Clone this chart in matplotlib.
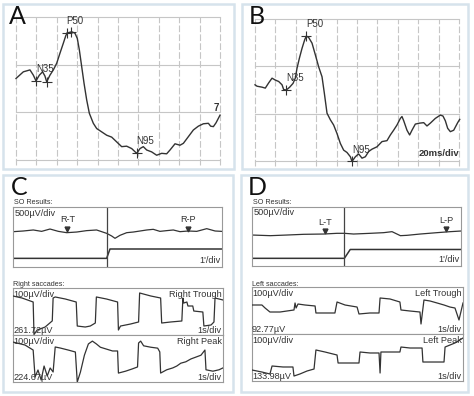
import matplotlib.pyplot as plt
from matplotlib.patches import Rectangle

W, H = 474, 396
plt.rcParams['font.family'] = ['Liberation Sans', 'DejaVu Sans']

# ---- A / B : waveform, 20 ms/div, amplitude in grid divisions
a_ms = [0, 7.2, 13.7, 17.0, 19.6, 22.9, 26.1, 28.4, 30.1, 33.3, 36.6, 39.9, 43.1, 46.4, 49.0,
        51.3, 54.6, 57.8, 60.1, 62.1, 64.4, 66.7, 69.3, 71.9, 75.8, 79.1, 84.0, 88.9, 93.8,
        98.7, 103.6, 108.5, 113.4, 118.3, 121.6, 124.8, 128.1, 133.0, 137.9, 142.8, 147.7,
        151.0, 155.9, 160.8, 164.1, 169.0, 173.9, 178.8, 183.7, 188.6, 190.8, 193.5, 196.1, 200.0]
a_amp = [1.71, 1.85, 1.89, 1.78, 1.66, 1.78, 1.85, 1.76, 1.64, 1.78, 1.89, 2.03, 2.24, 2.45, 2.62,
         2.67, 2.69, 2.66, 2.55, 2.31, 1.96, 1.61, 1.26, 0.98, 0.77, 0.66, 0.59, 0.52, 0.48,
         0.38, 0.28, 0.29, 0.24, 0.14, 0.24, 0.28, 0.21, 0.17, 0.10, 0.14, 0.13,
         0.21, 0.34, 0.31, 0.35, 0.49, 0.63, 0.71, 0.76, 0.77, 0.71, 0.70, 0.78, 0.94]
a_peak_names = ['N35', 'N35', 'P50', 'P50', 'N95']
a_peak_ms = [19.6, 30.1, 49.7, 53.6, 118.3]
a_peak_amp = [1.66, 1.64, 2.66, 2.69, 0.14]

b_ms = [0, 2.0, 6.9, 10.1, 13.4, 16.7, 19.9, 23.2, 26.5, 28.1, 30.7, 34.0, 37.3, 39.5, 41.2,
        43.5, 46.1, 48.7, 50.3, 52.6, 55.9, 59.2, 62.4, 65.7, 68.0, 70.6, 73.9, 77.1, 80.4, 83.7,
        86.9, 90.2, 93.5, 95.1, 98.4, 101.6, 104.9, 108.2, 111.4, 114.7, 119.6, 124.5, 129.4,
        132.7, 135.9, 139.2, 142.5, 144.1, 145.8, 149.0, 151.6, 153.9, 157.2, 161.4, 165.4,
        168.6, 171.9, 176.8, 181.7, 184.3, 186.6, 188.9, 191.5, 194.8, 198.7, 200.7]
b_amp = [1.61, 1.58, 1.56, 1.54, 1.65, 1.75, 1.71, 1.68, 1.61, 1.51, 1.50, 1.56, 1.64, 1.75, 1.96,
         2.17, 2.38, 2.56, 2.64, 2.61, 2.49, 2.24, 1.99, 1.78, 1.43, 1.01, 0.87, 0.76, 0.58, 0.37,
         0.23, 0.18, 0.09, -0.01, 0.09, 0.15, 0.06, 0.09, 0.20, 0.25, 0.30, 0.41, 0.43,
         0.55, 0.65, 0.76, 0.90, 0.94, 0.85, 0.65, 0.55, 0.65, 0.78, 0.80, 0.81,
         0.74, 0.80, 0.90, 0.97, 0.95, 0.85, 0.69, 0.62, 0.65, 0.81, 0.88]
b_peak_names = ['N35', 'P50', 'N95']
b_peak_ms = [30.7, 50.3, 95.1]
b_peak_amp = [1.50, 2.64, -0.01]

# ---- C / D : SO results (percent of box)
c_so_x = [0.2, 4.9, 9.7, 13.7, 17.7, 21.7, 25.7, 30.5, 35.2, 40.0, 42.4, 44.8, 47.2, 48.8, 51.2,
          54.4, 57.6, 60.8, 64.0, 67.1, 70.3, 73.5, 76.7, 79.9, 83.9, 87.9, 92.7, 96.7, 99.8]
c_so_y = [58.9, 60, 61.7, 59.4, 63.3, 59.4, 57.2, 58.3, 60.6, 61.7, 58.9, 56.1, 51.7, 47.8, 52.8,
          57.2, 58.3, 60, 61.7, 62.8, 59.4, 60.6, 61.7, 58.9, 60, 59.4, 63.9, 60, 59.4]
c_stim_x = [0, 44.8, 46.4, 100]
c_stim_y = [14.4, 14.4, 30, 30]
c_split = 44.8
c_marks = ['R-T', 'R-P']
c_mark_x = [26, 83.9]
c_mark_y = [64, 64]

d_so_x = [0, 8.8, 16.7, 24.7, 34.3, 40.7, 44.2, 48.6, 56.6, 63.0, 67.0, 71.0, 74.2, 80.5, 88.5,
          94.9, 100]
d_so_y = [52.5, 51.4, 52.5, 53.7, 54.2, 55.4, 55.4, 54.2, 55.4, 56.5, 58.2, 51.4, 52, 54.2, 56.5,
          58.2, 59.3]
d_stim_x = [0, 44.2, 47, 100]
d_stim_y = [13, 13, 28, 28]
d_split = 44.2
d_marks = ['L-T', 'L-P']
d_mark_x = [35, 92.8]
d_mark_y = [59, 62]

# ---- saccades (percent of box)
ct_x = [0, 4.3, 9.6, 10.0, 11.5, 15.3, 18.7, 19.1, 20.1, 24.9, 30.1, 30.6, 34.4, 36.8, 39.2,
        39.7, 44.5, 49.8, 50.2, 51.2, 56.0, 59.8, 60.3, 65.6, 70.3, 70.8, 75.1, 80.4, 80.9, 81.3,
        82.8, 83.3, 85.6, 86.1, 90.4, 90.9, 94.3, 95.7, 96.2, 100]
ct_y = [83, 78.7, 70.2, 1, 10.6, 17, 30, 78.7, 80.9, 76.6, 70.2, 19.1, 17, 19.1, 25.5,
        80.9, 76.6, 70.2, 10.6, 19.1, 23.4, 27.7, 89.4, 83, 78.7, 25.5, 27.7, 29.8, 78.7, 68,
        70.2, 61.7, 61.7, 51, 48.9, 19.1, 21.3, 27.7, 78.7, 74.5]
cp_x = [0, 5.7, 9.6, 10.5, 11.9, 13.4, 14.8, 16.3, 17.7, 19.1, 20.1, 22.5, 26.3, 29.7, 30.6,
        32.1, 34.0, 35.9, 37.8, 39.7, 41.6, 44.5, 47.4, 49.8, 50.2, 53.6, 56.9, 59.3, 59.8, 60.8,
        62.2, 65.6, 68.9, 69.9, 70.3, 73.2, 76.1, 78.0, 79.9, 82.3, 84.7, 87.1, 89.5, 91.4, 91.9,
        95.2, 98.1, 100]
cp_y = [85, 78.7, 68, 10.6, 25.5, 4.3, 34, 12.8, 29.8, 21.3, 74.5, 72.3, 68, 63.8, 0,
        21, 57, 81, 87, 81, 74, 70, 66, 66, 19, 23, 28, 32, 83, 87,
        77, 74, 72, 64, 19, 26, 30, 34, 40, 43, 49, 53, 57, 68, 26,
        23, 26, 30]
dt_x = [0, 4.7, 6.2, 8.5, 13.3, 19.9, 20.4, 20.9, 21.8, 25.1, 29.9, 30.3, 34.6, 39.3, 40.3,
        44.1, 49.8, 50.7, 55.9, 60.2, 60.7, 65.4, 70.1, 70.6, 74.9, 79.6, 80.1, 81.5, 84.4, 87.7,
        91.0, 93.8, 96.2, 98.1, 100]
dt_y = [61.7, 61.7, 55.3, 46.8, 46.8, 51.1, 66, 55.3, 63.8, 61.7, 59.6, 44.7, 44.7, 44.7, 68.1,
        61.7, 57.4, 42.6, 44.7, 44.7, 76.6, 74.5, 68.1, 51.1, 48.9, 46.8, 21.3, 72.3, 70.2, 66,
        61.7, 57.4, 55.3, 29.8, 66]
dp_x = [0, 4.7, 8.5, 9.5, 14.7, 19.4, 19.9, 22.7, 26.1, 29.4, 30.3, 34.6, 40.3, 40.8, 46.4,
        50.7, 51.2, 55.9, 60.2, 60.7, 61.1, 65.4, 70.1, 70.6, 74.9, 80.6, 81.0, 86.7, 91.0, 91.5,
        96.2, 100]
dp_y = [23.4, 19.1, 14.9, 31.9, 29.8, 29.8, 10.6, 14.9, 21.3, 25.5, 66, 61.7, 55.3, 38.3, 38.3,
        38.3, 61.7, 59.6, 59.6, 17, 61.7, 61.7, 61.7, 72.3, 70.2, 70.2, 40.4, 40.4, 40.4, 72.3,
        80.9, 91.5]

TRACE = '#333333'
GRID = '#c6c6c6'
BOX = '#999999'

fig = plt.figure(figsize=(W / 100, H / 100), dpi=100)


def px_axes(x0, y0, x1, y1):
    # axes placed by its pixel box, origin top-left
    return fig.add_axes([x0 / W, 1 - y1 / H, (x1 - x0) / W, (y1 - y0) / H])


def frame(x0, y0, x1, y1):
    fig.add_artist(Rectangle((x0 / W, 1 - y1 / H), (x1 - x0) / W, (y1 - y0) / H,
                             transform=fig.transFigure, fill=False, ec='#d6e3ec', lw=1.8))


def ptext(x, y, s, **kw):
    fig.text(x / W, 1 - y / H, s, **kw)


def wave_panel(rect, ms, amp, names, pk_ms, pk_amp, end_label, end_off):
    ax = px_axes(*rect)
    ax.set_xlim(0, 200)
    ax.set_ylim(0, 3)
    ax.axis('off')
    for k in range(11):
        ax.plot([k * 20, k * 20], [-0.1, 3], color=GRID, lw=0.8, ls=(0, (6, 2)), clip_on=False)
    for k in range(4):
        ax.plot([0, 200], [k, k], color=GRID, lw=0.8, clip_on=False)
    ax.plot(ms, amp, color=TRACE, lw=1.0, clip_on=False, zorder=3)
    ax.plot(pk_ms, pk_amp, ls='none', marker='+', ms=7, mew=0.8, color=TRACE, clip_on=False, zorder=4)
    seen = set()
    for n, x, y in zip(names, pk_ms, pk_amp):
        if n in seen:
            continue
        seen.add(n)
        ax.annotate(n, (x, y), xytext=(0, 5), textcoords='offset points', fontsize=7,
                    color=TRACE, ha='left', va='bottom', zorder=5)
    ax.annotate(end_label, (ms[-1], amp[-1]), xytext=end_off, textcoords='offset points',
                fontsize=7, fontweight='bold', color=TRACE, ha='right', va='center')
    return ax


def box(rect):
    ax = px_axes(*rect)
    ax.set_xlim(0, 100)
    ax.set_ylim(0, 100)
    ax.set_xticks([])
    ax.set_yticks([])
    for s in ax.spines.values():
        s.set_color(BOX)
        s.set_linewidth(0.8)
    return ax


def so_panel(rect, x, y, sx, sy, split, marks, mx, my):
    ax = box(rect)
    ax.plot(x, y, color=TRACE, lw=0.9)
    ax.plot(sx, sy, color=TRACE, lw=1.1)
    ax.axvline(split, color='#444444', lw=0.9)
    ax.plot(mx, my, ls='none', marker='v', ms=3.5, color=TRACE)
    for n, a, b in zip(marks, mx, my):
        ax.annotate(n, (a, b), xytext=(0, 3), textcoords='offset points', fontsize=6.6,
                    color=TRACE, ha='center', va='bottom')
    ax.text(0.01, 0.9, '500\u00b5V/div', transform=ax.transAxes, fontsize=6.6, color=TRACE, va='center')
    ax.text(0.995, 0.03, "1'/div", transform=ax.transAxes, fontsize=6.6, color=TRACE,
            ha='right', va='bottom')


def sacc_box(rect, x, y, name, value):
    ax = box(rect)
    ax.plot(x, y, color=TRACE, lw=0.9, zorder=3)
    ax.text(0.0, 0.86, '100\u00b5V/div', transform=ax.transAxes, fontsize=6.6, color=TRACE, va='center')
    ax.text(0.995, 0.87, name, transform=ax.transAxes, fontsize=6.6, color=TRACE, ha='right', va='center')
    ax.text(0.0, 0.0, value, transform=ax.transAxes, fontsize=6.6, color=TRACE, va='bottom')
    ax.text(0.995, 0.0, '1s/div', transform=ax.transAxes, fontsize=6.6, color=TRACE,
            ha='right', va='bottom')


# panel frames
frame(3, 4, 234, 169)
frame(242, 4, 468, 169)
frame(3, 175, 233, 392)
frame(241, 175, 468, 392)

# A
wave_panel((16, 17, 220, 160), a_ms, a_amp, a_peak_names, a_peak_ms, a_peak_amp, '7', (-1, 5))
# B
axb = wave_panel((255, 19, 459, 161), b_ms, b_amp, b_peak_names, b_peak_ms, b_peak_amp, '8', (-1, 1))
axb.text(200.5, 0.06, '20ms/div', fontsize=6.8, fontweight='bold', color=TRACE, ha='right', va='bottom')

# C
ptext(14, 203, 'SO Results:', fontsize=5.2, color=TRACE, va='center')
so_panel((13, 207, 222, 267), c_so_x, c_so_y, c_stim_x, c_stim_y, c_split, c_marks, c_mark_x, c_mark_y)
ptext(13, 285, 'Right saccades:', fontsize=5.2, color=TRACE, va='center')
sacc_box((13, 288, 223, 335), ct_x, ct_y, 'Right Trough', '261.72\u00b5V')
sacc_box((13, 335, 223, 382), cp_x, cp_y, 'Right Peak', '224.67\u00b5V')

# D
ptext(253, 203, 'SO Results:', fontsize=5.2, color=TRACE, va='center')
so_panel((252, 207, 461, 266), d_so_x, d_so_y, d_stim_x, d_stim_y, d_split, d_marks, d_mark_x, d_mark_y)
ptext(252, 284, 'Left saccades:', fontsize=5.2, color=TRACE, va='center')
sacc_box((252, 287, 463, 334), dt_x, dt_y, 'Left Trough', '92.77\u00b5V')
sacc_box((252, 334, 463, 381), dp_x, dp_y, 'Left Peak', '133.98\u00b5V')

# panel letters
for s, x, y in [('A', 9, 17), ('B', 249, 17), ('C', 11, 188), ('D', 248, 188)]:
    ptext(x, y, s, fontsize=18, family=['Lato', 'DejaVu Sans'], color='#111111', va='center')

fig.savefig('out.png', dpi=100, facecolor='white')
